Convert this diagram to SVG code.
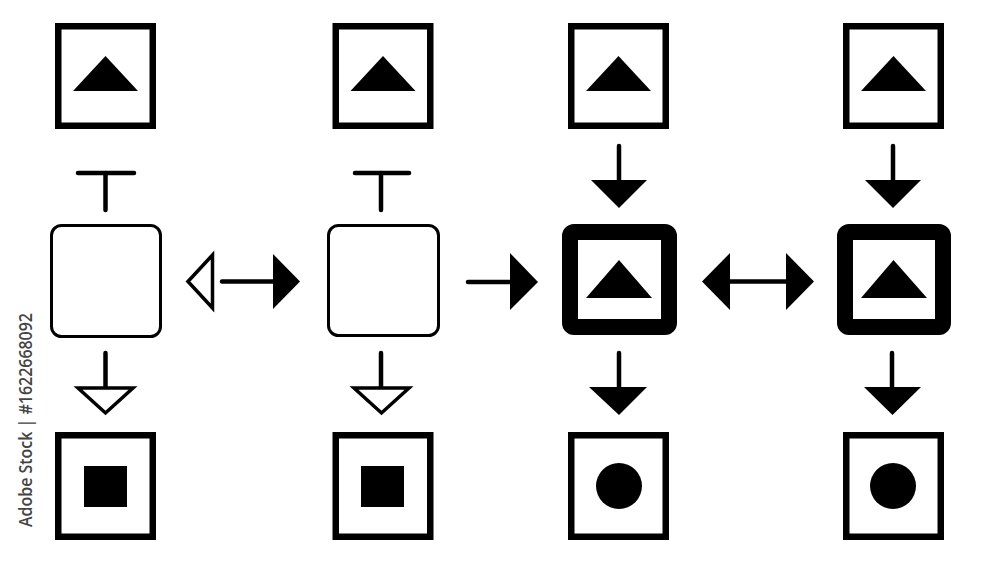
<svg xmlns="http://www.w3.org/2000/svg" width="1000" height="563" viewBox="0 0 1000 563">
<style>
.box{fill:#fff;stroke:#000;stroke-width:6.5}
.rbox{fill:#fff;stroke:#000;stroke-width:3}
.thick{fill:#fff;stroke:#000;stroke-width:16}
.ln{stroke:#000;stroke-width:4.5;stroke-linecap:round;fill:none}
.solid{fill:#000}
.hollow{fill:#fff;stroke:#000;stroke-width:3.5;stroke-linejoin:miter}
.wm{font-family:"Open Sans","Liberation Sans",sans-serif;font-size:17.5px;font-weight:600;fill:#444}
</style>
<rect width="1000" height="563" fill="#fff"/>

<g id="top1"><rect class="box" x="58.25" y="26.25" width="94.5" height="99.5"/><polygon class="solid" points="105.5,56 73,91 138,91"/></g>
<g id="top2"><rect class="box" x="335.75" y="26.25" width="94.5" height="99.5"/><polygon class="solid" points="383,56 350.5,91 415.5,91"/></g>
<g id="top3"><rect class="box" x="571.25" y="26.25" width="94.5" height="99.5"/><polygon class="solid" points="618.5,56 586,91 651,91"/></g>
<g id="top4"><rect class="box" x="846.25" y="26.25" width="94.5" height="99.5"/><polygon class="solid" points="893.5,56 861,91 926,91"/></g>

<g id="mid1"><rect class="rbox" x="51.5" y="225.5" width="109" height="111" rx="10"/></g>
<g id="mid2"><rect class="rbox" x="328.5" y="225.5" width="110" height="110" rx="10"/></g>
<g id="mid3"><rect class="thick" x="570" y="232" width="99" height="95" rx="4"/><polygon class="solid" points="619,260 586,298 652,298"/></g>
<g id="mid4"><rect class="thick" x="845" y="232" width="98" height="95" rx="4"/><polygon class="solid" points="893.5,260 861,298 927,298"/></g>

<g id="bot1"><rect class="box" x="58.25" y="435.25" width="94.5" height="101.5"/><rect class="solid" x="84" y="466" width="43" height="41"/></g>
<g id="bot2"><rect class="box" x="335.75" y="435.25" width="94.5" height="101.5"/><rect class="solid" x="361" y="466" width="43" height="41"/></g>
<g id="bot3"><rect class="box" x="571.25" y="435.25" width="94.5" height="101.5"/><circle class="solid" cx="619" cy="486" r="23"/></g>
<g id="bot4"><rect class="box" x="846.25" y="435.25" width="94.5" height="101.5"/><circle class="solid" cx="893" cy="486" r="23"/></g>

<g id="connectors">
  <line class="ln" x1="78" y1="173" x2="134" y2="173"/>
  <line class="ln" x1="105.5" y1="173" x2="105.5" y2="210"/>
  <line class="ln" x1="355" y1="173" x2="409" y2="173"/>
  <line class="ln" x1="381" y1="173" x2="381" y2="210"/>
  <line class="ln" x1="619" y1="146" x2="619" y2="182"/>
  <polygon class="solid" points="591,180 647,180 619,208"/>
  <line class="ln" x1="893" y1="146" x2="893" y2="182"/>
  <polygon class="solid" points="865,180 921,180 893,208"/>
  <polygon class="hollow" points="188,281.5 212.5,255 212.5,308"/>
  <line class="ln" x1="222" y1="281.5" x2="275" y2="281.5"/>
  <polygon class="solid" points="273,254 300,281.5 273,309"/>
  <line class="ln" x1="468" y1="282" x2="512" y2="282"/>
  <polygon class="solid" points="510,253 538,282 510,310"/>
  <polygon class="solid" points="702,281.5 730,253 730,310"/>
  <line class="ln" x1="728" y1="281.5" x2="788" y2="281.5"/>
  <polygon class="solid" points="786,253 814,281.5 786,310"/>
  <line class="ln" x1="105.5" y1="353" x2="105.5" y2="388"/>
  <polygon class="hollow" points="78,388 133,388 105.5,413"/>
  <line class="ln" x1="381" y1="353" x2="381" y2="388"/>
  <polygon class="hollow" points="354,388 409,388 381.5,413"/>
  <line class="ln" x1="619" y1="353" x2="619" y2="389"/>
  <polygon class="solid" points="589,387 647,387 619,415"/>
  <line class="ln" x1="892" y1="353" x2="892" y2="389"/>
  <polygon class="solid" points="864,387 921,387 892.5,415"/>
</g>

<text class="wm" transform="translate(32,527) rotate(-90)" textLength="214" lengthAdjust="spacingAndGlyphs">Adobe Stock | #1622668092</text>
</svg>
